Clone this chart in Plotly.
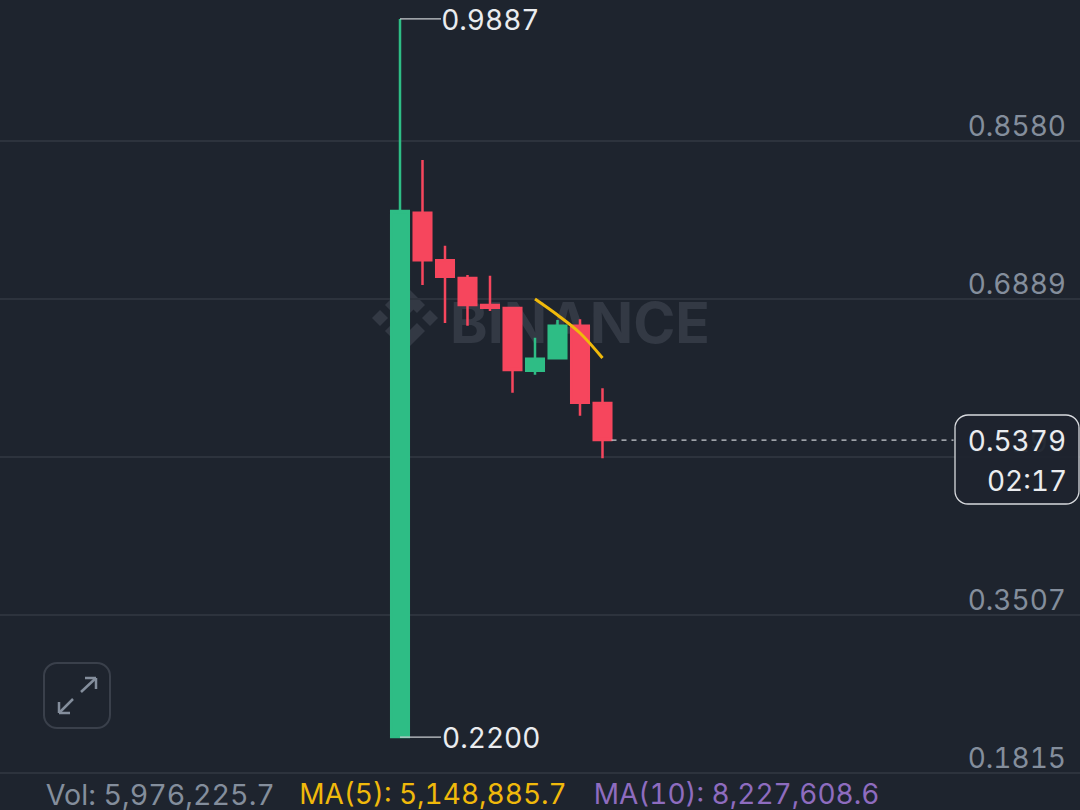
import plotly.graph_objects as go

# candles, oldest first
candle_idx = [0, 1, 2, 3, 4, 5, 6, 7, 8, 9]
opens = [0.2200, 0.7813, 0.7303, 0.7114, 0.6825, 0.6793, 0.6122, 0.6254, 0.6603, 0.5776]
highs = [0.9887, 0.8377, 0.7459, 0.7146, 0.7138, 0.6793, 0.6475, 0.6664, 0.6672, 0.5933]
lows = [0.2200, 0.7039, 0.6632, 0.6603, 0.6761, 0.5886, 0.6079, 0.6254, 0.5640, 0.5184]
closes = [0.7831, 0.7303, 0.7128, 0.6825, 0.6796, 0.6129, 0.6250, 0.6603, 0.5779, 0.5379]

ma_idx = [6, 7, 8, 9]
ma5 = [0.6889, 0.6718, 0.6525, 0.6257]

price_ticks = [0.8580, 0.6889, 0.5198, 0.3507, 0.1815]
last_price = 0.5379
countdown = "02:17"
high_price = 0.9887
low_price = 0.2200
vol_text = "Vol: 5,976,225.7"
ma5_text = "MA(5): 5,148,885.7"
ma10_text = "MA(10): 8,227,608.6"

BG = "#1e242e"
GRID = "#2d333d"
GREY = "#848e9c"
WHITE = "#eaecef"
GREEN = "#2ebd85"
RED = "#f6465d"
FONT = "Inter"
FS = 28
W, H = 1080, 810


def px(x):
    return x / W


def py(y):
    return 1 - y / H


def poly(points, color):
    d = "M " + " L ".join(f"{px(x):.5f},{py(y):.5f}" for x, y in points) + " Z"
    return dict(type="path", xref="paper", yref="paper", path=d, fillcolor=color,
                line_width=0, layer="below")


def rounded(x0, y0, x1, y1, r):
    c = r * 0.45
    pts = [
        f"M {px(x0 + r):.5f},{py(y0):.5f}", f"L {px(x1 - r):.5f},{py(y0):.5f}",
        f"C {px(x1 - c):.5f},{py(y0):.5f} {px(x1):.5f},{py(y0 + c):.5f} {px(x1):.5f},{py(y0 + r):.5f}",
        f"L {px(x1):.5f},{py(y1 - r):.5f}",
        f"C {px(x1):.5f},{py(y1 - c):.5f} {px(x1 - c):.5f},{py(y1):.5f} {px(x1 - r):.5f},{py(y1):.5f}",
        f"L {px(x0 + r):.5f},{py(y1):.5f}",
        f"C {px(x0 + c):.5f},{py(y1):.5f} {px(x0):.5f},{py(y1 - c):.5f} {px(x0):.5f},{py(y1 - r):.5f}",
        f"L {px(x0):.5f},{py(y0 + r):.5f}",
        f"C {px(x0):.5f},{py(y0 + c):.5f} {px(x0 + c):.5f},{py(y0):.5f} {px(x0 + r):.5f},{py(y0):.5f} Z",
    ]
    return " ".join(pts)


def seg(x0, y0, x1, y1, color, width):
    return dict(type="line", xref="paper", yref="paper", x0=px(x0), y0=py(y0), x1=px(x1), y1=py(y1),
                line=dict(color=color, width=width))


fig = go.Figure()
fig.add_trace(go.Candlestick(
    x=candle_idx, open=opens, high=highs, low=lows, close=closes,
    increasing=dict(line=dict(color=GREEN, width=2.5), fillcolor=GREEN),
    decreasing=dict(line=dict(color=RED, width=2.5), fillcolor=RED),
    whiskerwidth=0, showlegend=False,
))
fig.add_trace(go.Scatter(x=ma_idx, y=ma5, mode="lines", showlegend=False,
                         line=dict(color="#f0b90b", width=3, shape="spline")))

# watermark, sits under the candles
mark = "#333944"
lx, ly = 405, 318
shapes = [
    dict(type="rect", xref="paper", yref="paper", x0=px(445), x1=px(715), y0=py(350), y1=py(290),
         fillcolor="rgba(0,0,0,0)", line_width=0, layer="below",
         label=dict(text="<b>BINANCE</b>", font=dict(family="Inter", size=57, color=mark),
                    textposition="middle center")),
    poly([(lx - 33, ly), (lx - 25, ly - 8), (lx - 17, ly), (lx - 25, ly + 8)], mark),
    poly([(lx + 33, ly), (lx + 25, ly - 8), (lx + 17, ly), (lx + 25, ly + 8)], mark),
    poly([(lx, ly), (lx - 9, ly - 9), (lx, ly - 18), (lx + 9, ly - 9)], mark),
    poly([(lx - 20, ly - 13), (lx, ly - 33), (lx + 20, ly - 13), (lx + 12, ly - 5), (lx, ly - 17), (lx - 12, ly - 5)], mark),
    poly([(lx - 20, ly + 13), (lx, ly + 33), (lx + 20, ly + 13), (lx + 12, ly + 5), (lx, ly + 17), (lx - 12, ly + 5)], mark),
]

# last price line and its box
shapes.append(dict(type="line", xref="x", yref="y", x0=9.4, x1=24.6, y0=last_price, y1=last_price,
                   line=dict(color="#c9ccd1", width=1.2, dash="5px,5px")))
shapes.append(dict(type="path", xref="paper", yref="paper", path=rounded(955, 415, 1079, 504, 13),
                   fillcolor="rgba(30,36,46,0.93)", line=dict(color="#d8dade", width=1.3)))

# high / low leaders
leader = 41 / 22.5
shapes.append(dict(type="line", xref="x", yref="y", x0=0, x1=leader, y0=high_price, y1=high_price,
                   line=dict(color="#c9ccd1", width=1.3)))
shapes.append(dict(type="line", xref="x", yref="y", x0=0, x1=leader, y0=low_price, y1=low_price,
                   line=dict(color="#c9ccd1", width=1.3)))

# expand button
shapes.append(dict(type="path", xref="paper", yref="paper", path=rounded(44, 663, 110, 728, 13),
                   fillcolor="rgba(0,0,0,0)", line=dict(color="#3a404b", width=2)))
ICON = "#848e9c"
shapes += [
    seg(81, 692, 96, 678, ICON, 2.5), seg(85, 678, 96, 678, ICON, 2.5), seg(96, 678, 96, 689, ICON, 2.5),
    seg(73, 699, 59, 713, ICON, 2.5), seg(59, 713, 70, 713, ICON, 2.5), seg(59, 713, 59, 702, ICON, 2.5),
]

annotations = [
    dict(x=leader, y=high_price, xref="x", yref="y", text=f"{high_price:.4f}", xanchor="left", yanchor="middle",
         xshift=1, yshift=-1, showarrow=False, font=dict(family=FONT, size=FS, color=WHITE)),
    dict(x=leader, y=low_price, xref="x", yref="y", text=f"{low_price:.4f}", xanchor="left", yanchor="middle",
         xshift=1, yshift=-1, showarrow=False, font=dict(family=FONT, size=FS, color=WHITE)),
    dict(x=px(1065), y=py(441), xref="paper", yref="paper", text=f"{last_price:.4f}", xanchor="right", yanchor="middle",
         showarrow=False, font=dict(family=FONT, size=FS, color=WHITE)),
    dict(x=px(1064), y=py(481), xref="paper", yref="paper", text=countdown, xanchor="right", yanchor="middle",
         showarrow=False, font=dict(family=FONT, size=FS, color=WHITE)),
    dict(x=px(50), y=py(794), xref="paper", yref="paper", text=vol_text, xanchor="left", yanchor="middle",
         showarrow=False, font=dict(family=FONT, size=28.6, color=GREY)),
    dict(x=px(307), y=py(794), xref="paper", yref="paper", text=ma5_text, xanchor="left", yanchor="middle",
         showarrow=False, font=dict(family=FONT, size=FS, color="#f0b90b")),
    dict(x=px(601.5), y=py(794), xref="paper", yref="paper", text=ma10_text, xanchor="left", yanchor="middle",
         showarrow=False, font=dict(family=FONT, size=FS, color="#8e6cbf")),
]

fig.update_layout(
    width=W, height=H,
    margin=dict(l=0, r=0, t=0, b=0),
    paper_bgcolor=BG, plot_bgcolor=BG,
    boxgap=0.22, boxgroupgap=0,
    shapes=shapes, annotations=annotations,
    xaxis=dict(range=[-400 / 22.5, 680 / 22.5], visible=False, rangeslider=dict(visible=False), fixedrange=True),
    yaxis=dict(
        range=[0.14198, 1.00891], side="right", tickmode="array", tickvals=price_ticks,
        ticktext=[f"{t:.4f}" for t in price_ticks], ticklabelposition="inside top", ticks="",
        ticklabelstandoff=11,
        gridcolor=GRID, gridwidth=1.5, zeroline=False, showline=False, fixedrange=True,
        tickfont=dict(family=FONT, size=FS, color=GREY),
    ),
)

# body margin off, tabular digits so prices all take the same width,
# and the price labels sit a little closer to their gridlines
page_js = (
    "document.body.style.margin='0';document.body.style.background='" + BG + "';"
    "var s=document.createElement('style');"
    "s.textContent='text{font-feature-settings:\"tnum\" 1 !important;}';"
    "document.head.appendChild(s);"
    "document.querySelectorAll('.ytick text').forEach(function(t){t.setAttribute('dy','5');});"
)
fig.write_html("out.html", config=dict(displayModeBar=False), post_script=page_js)
